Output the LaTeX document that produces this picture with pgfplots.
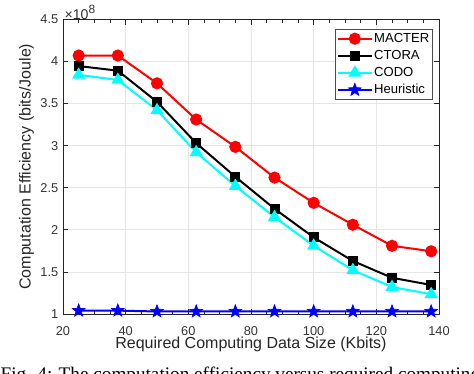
\documentclass[border=0pt]{standalone}
\usepackage{pgfplots}
\pgfplotsset{compat=1.18}
\usepackage{fontspec}
\setmainfont{Liberation Sans}
\newfontfamily\seriffont{Liberation Serif}
\definecolor{mred}{RGB}{255,0,0}
\definecolor{mcyan}{RGB}{0,255,255}
\definecolor{mblue}{RGB}{0,0,255}
\pgfdeclareplotmark{fstar}{%
  \pgfpathmoveto{\pgfpointpolar{90}{\pgfplotmarksize}}%
  \pgfpathlineto{\pgfpointpolar{126}{0.42\pgfplotmarksize}}%
  \pgfpathlineto{\pgfpointpolar{162}{\pgfplotmarksize}}%
  \pgfpathlineto{\pgfpointpolar{198}{0.42\pgfplotmarksize}}%
  \pgfpathlineto{\pgfpointpolar{234}{\pgfplotmarksize}}%
  \pgfpathlineto{\pgfpointpolar{270}{0.42\pgfplotmarksize}}%
  \pgfpathlineto{\pgfpointpolar{306}{\pgfplotmarksize}}%
  \pgfpathlineto{\pgfpointpolar{342}{0.42\pgfplotmarksize}}%
  \pgfpathlineto{\pgfpointpolar{18}{\pgfplotmarksize}}%
  \pgfpathlineto{\pgfpointpolar{54}{0.42\pgfplotmarksize}}%
  \pgfpathclose
  \pgfusepathqfillstroke}
\begin{document}
\begin{tikzpicture}
\useasboundingbox (-47.25pt,-45pt) rectangle (308.25pt,235.5pt);
\clip (-47.25pt,-45pt) rectangle (308.25pt,235.5pt);
\begin{axis}[
  scale only axis,
  width=282pt, height=221pt,
  xmin=20, xmax=140, ymin=1e8, ymax=4.5e8,
  xtick={20,40,...,140},
  ytick={1e8,1.5e8,2e8,2.5e8,3e8,3.5e8,4e8,4.5e8},
  minor x tick num=3,
  tick align=inside,
  major tick length=4pt, minor tick length=2.5pt,
  grid=major,
  major grid style={gray!20, line width=0.5pt},
  axis line style={black!85, line width=0.6pt},
  every tick/.style={black!85, line width=0.5pt},
  tick label style={font=\fontsize{9.6}{11}\selectfont, text=black!80},
  xticklabel style={yshift=-6pt},
  /pgf/number format/assume math mode=true,
  scaled y ticks=base 10:-8,
  ytick scale label code/.code={×10\raisebox{0.45em}{\fontsize{9}{10}\selectfont 8}},
  every y tick scale label/.style={at={(0,1)}, anchor=south west, inner sep=1pt, xshift=0pt, yshift=-1.5pt, font=\fontsize{10.6}{12}\selectfont, text=black!80},
  xlabel={Required Computing Data Size (Kbits)},
  ylabel={Computation Efficiency (bits/Joule)},
  label style={font=\fontsize{12}{14}\selectfont, text=black!85},
  xlabel style={at={(axis description cs:0.5,0)}, anchor=base, yshift=-25.5pt},
  ylabel style={yshift=-2pt},
  legend cell align=left,
  legend style={at={(1,1)}, anchor=north east, xshift=-5pt, yshift=-7.4pt,
    font=\fontsize{9.8}{11}\selectfont, draw=black!70, line width=0.5pt,
    inner sep=1pt, row sep=1pt,
    nodes={inner sep=1pt, text height=7.5pt, text depth=2.3pt}},
  legend image code/.code={\draw[mark repeat=2,mark phase=2] plot coordinates {(0pt,0pt)(12.75pt,0pt)(25.5pt,0pt)};},
  every axis plot/.append style={line width=1.5pt},
]
\addplot[mred, mark=*, mark size=3.8pt, mark options={solid}] coordinates {
(25,4.07e8)(37.5,4.07e8)(50,3.74e8)(62.5,3.31e8)(75,2.985e8)(87.5,2.62e8)(100,2.32e8)(112.5,2.06e8)(125,1.81e8)(137.5,1.745e8)};
\addlegendentry{MACTER}
\addplot[black, mark=square*, mark size=3pt] coordinates {
(25,3.945e8)(37.5,3.89e8)(50,3.52e8)(62.5,3.03e8)(75,2.63e8)(87.5,2.25e8)(100,1.91e8)(112.5,1.63e8)(125,1.43e8)(137.5,1.345e8)};
\addlegendentry{CTORA}
\addplot[mcyan, mark=triangle*, mark size=4.2pt] coordinates {
(25,3.84e8)(37.5,3.78e8)(50,3.42e8)(62.5,2.92e8)(75,2.52e8)(87.5,2.15e8)(100,1.81e8)(112.5,1.52e8)(125,1.32e8)(137.5,1.235e8)};
\addlegendentry{CODO}
\addplot[mblue, mark=fstar, mark size=5pt, mark options={fill=mblue, line width=0.5pt}] coordinates {
(25,1.04e8)(37.5,1.04e8)(50,1.03e8)(62.5,1.03e8)(75,1.03e8)(87.5,1.03e8)(100,1.03e8)(112.5,1.03e8)(125,1.03e8)(137.5,1.03e8)};
\addlegendentry{Heuristic}
\end{axis}
\node[anchor=base west, inner sep=0pt, font=\seriffont\fontsize{14.4}{17}\selectfont] at (-47pt,-50.2pt) {Fig. 4: The computation efficiency versus required computing data size.};
\end{tikzpicture}
\end{document}
